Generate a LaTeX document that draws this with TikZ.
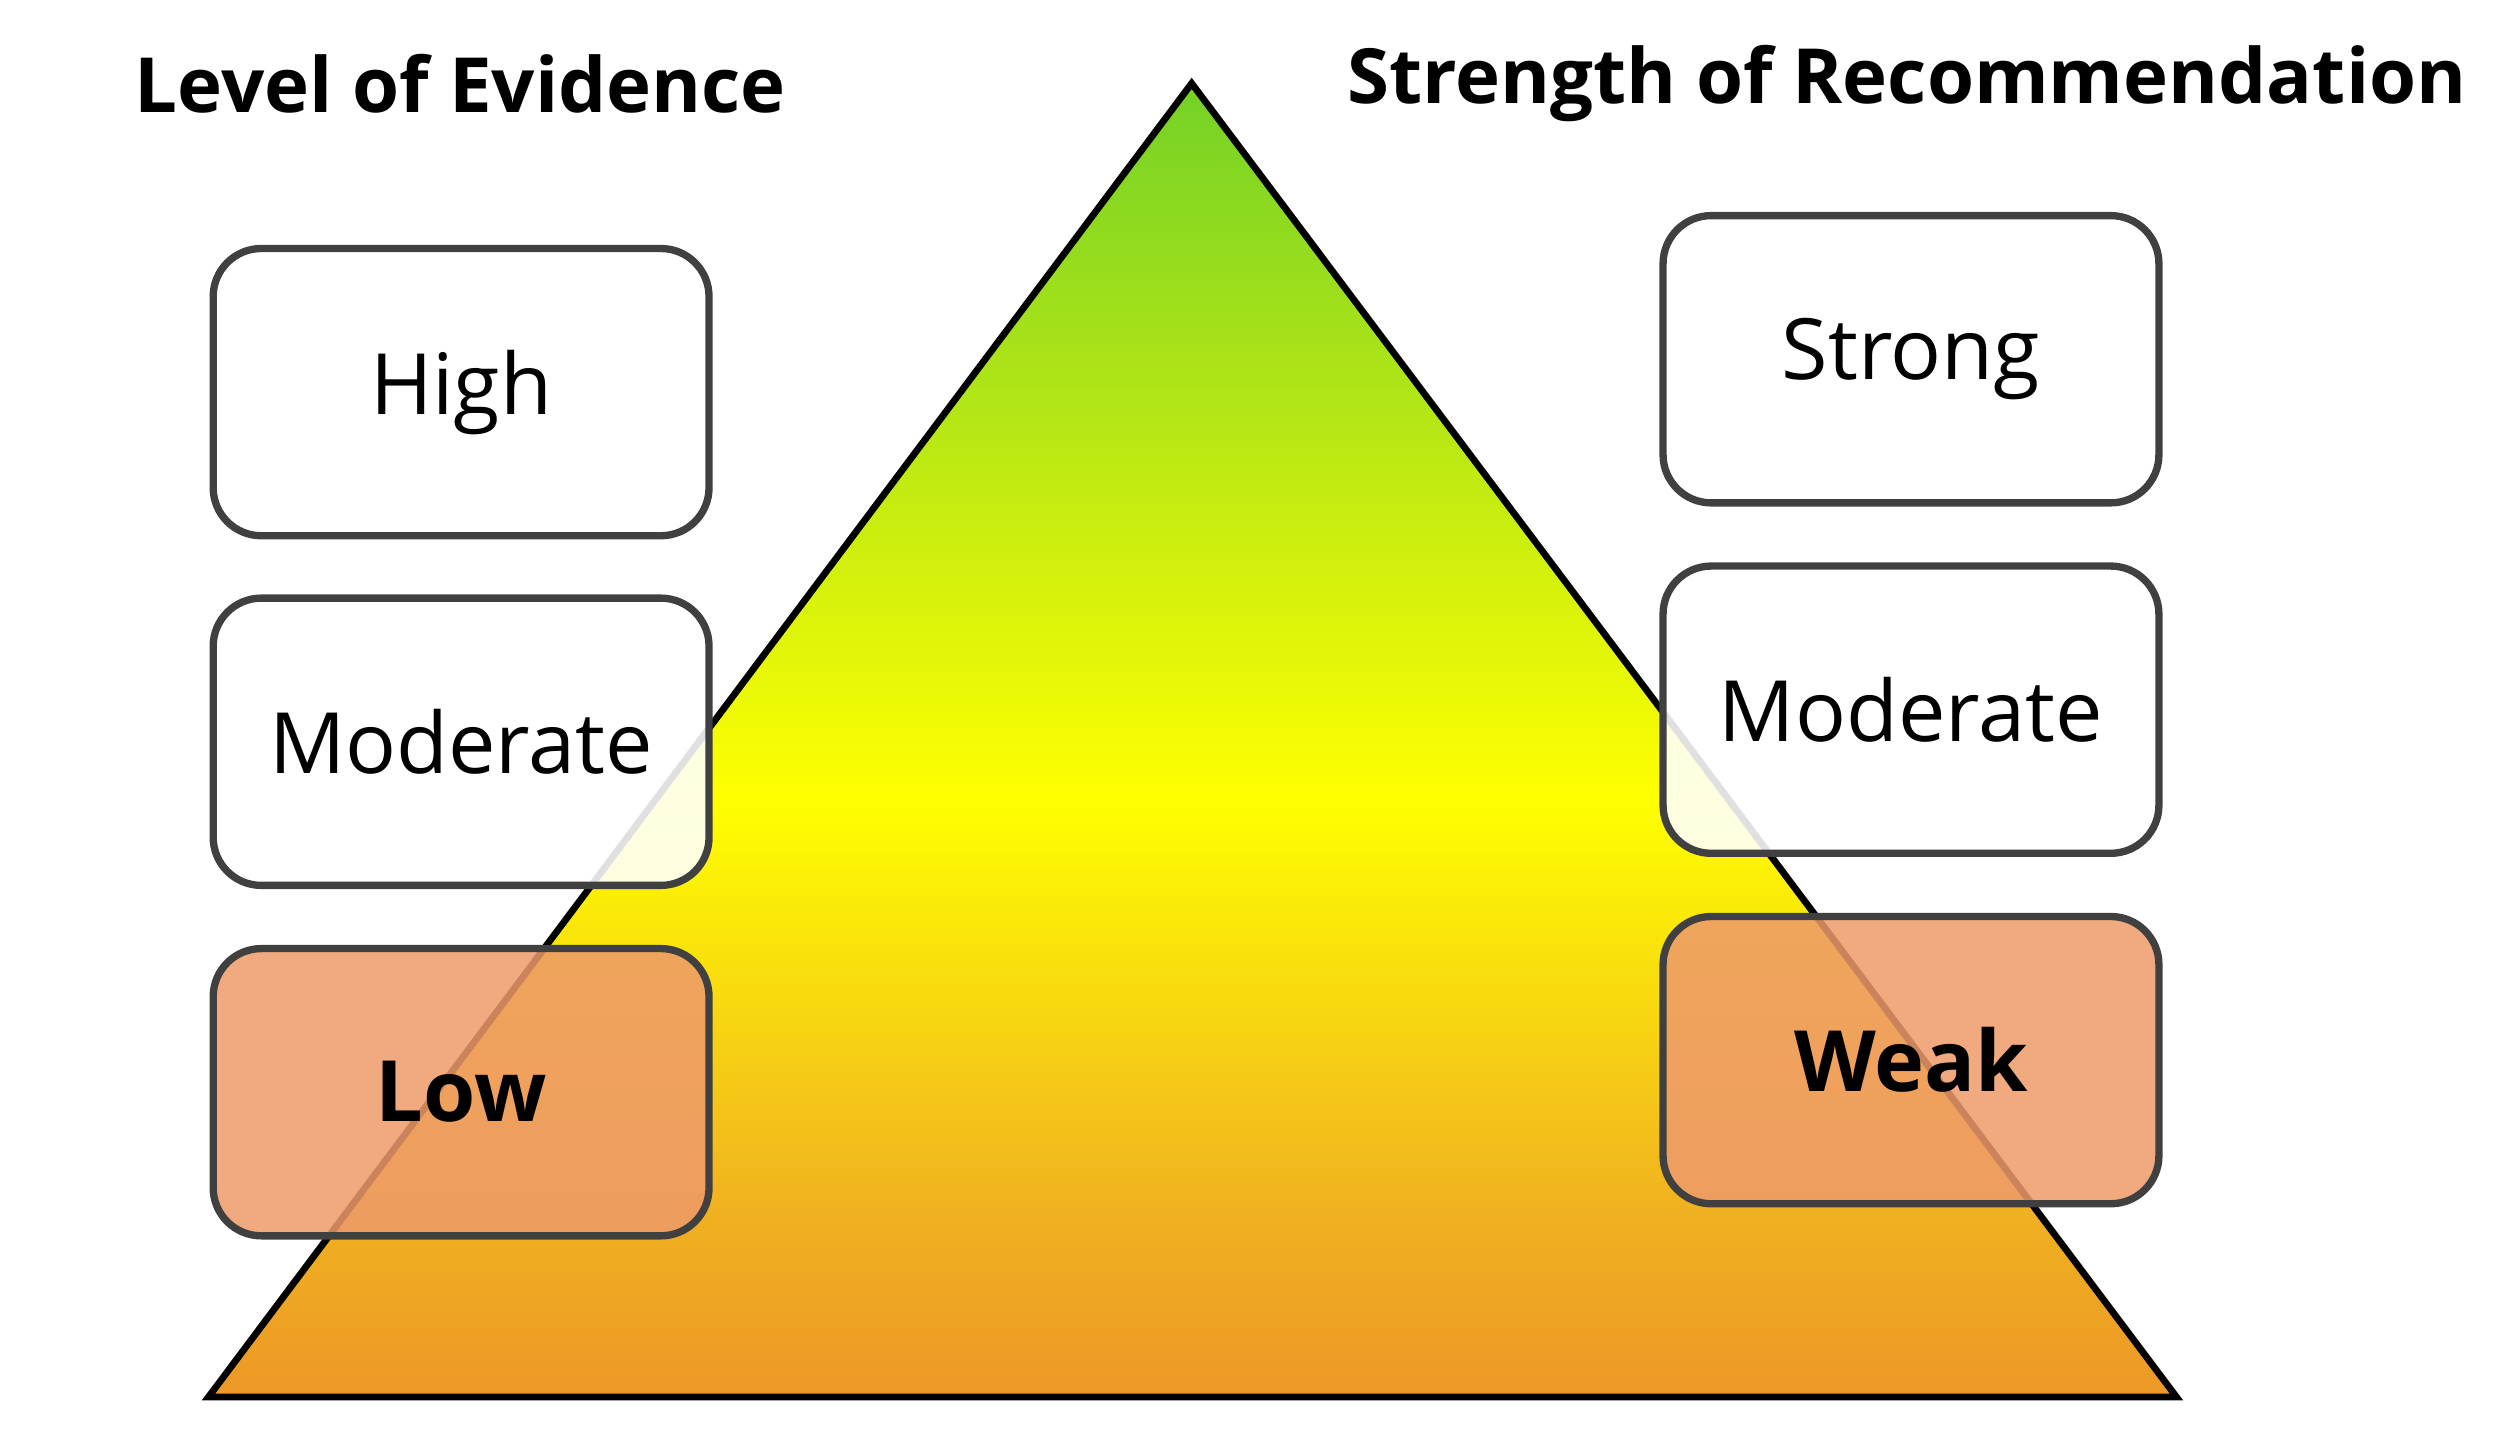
\documentclass[tikz,border=0pt]{standalone}
\usepackage{fontspec}
\setmainfont{Open Sans}
\definecolor{gtop}{HTML}{10B048}
\definecolor{g2}{HTML}{70D028}
\definecolor{ylw}{HTML}{FFFF00}
\definecolor{org}{HTML}{F0B020}
\definecolor{org2}{HTML}{E87830}
\definecolor{rd}{HTML}{FF0808}
\definecolor{salmon}{HTML}{EE9A6A}
\pgfdeclareverticalshading{tri}{100bp}{color(0bp)=(rd); color(16.6bp)=(rd); color(27.3bp)=(org2); color(37.9bp)=(org); color(48.5bp)=(ylw); color(67.2bp)=(g2); color(83.4bp)=(gtop); color(100bp)=(gtop)}
\begin{document}
\begin{tikzpicture}[x=0.01cm,y=-0.01cm,
  lbox/.style={draw=black!75,line width=1.3pt,rounded corners=0.3cm,minimum width=3.09cm,minimum height=1.79cm,font=\fontsize{15}{18}\selectfont,inner sep=0pt},
  wbox/.style={lbox,fill=white,fill opacity=0.88,text opacity=1},
  obox/.style={lbox,fill=salmon,fill opacity=0.85,text opacity=1,font=\fontsize{15}{18}\selectfont\bfseries},
  ttl/.style={font=\fontsize{13.5}{16}\selectfont\bfseries}]
\useasboundingbox (0,0) rectangle (1560,904);
\begin{scope}
\clip (743,52) -- (1357,871) -- (130,871) -- cycle;
\shade[shading=tri] (130,-152) rectangle (1357,1075);
\end{scope}
\draw[line width=1.2pt] (743,52) -- (1357,871) -- (130,871) -- cycle;
\node[ttl] (t1) at (287,52) {Level of Evidence};
\node[ttl] (t2) at (1189,52) {Strength of Recommendation};
\node[wbox] (high) at (287.5,244.5) {High};
\node[wbox] (modl) at (287.5,462.5) {Moderate};
\node[obox] (low) at (287.5,681) {Low};
\node[wbox] (strong) at (1191.5,224) {Strong};
\node[wbox] (modr) at (1191.5,442.5) {Moderate};
\node[obox] (weak) at (1191.5,661) {Weak};
\end{tikzpicture}
\end{document}
